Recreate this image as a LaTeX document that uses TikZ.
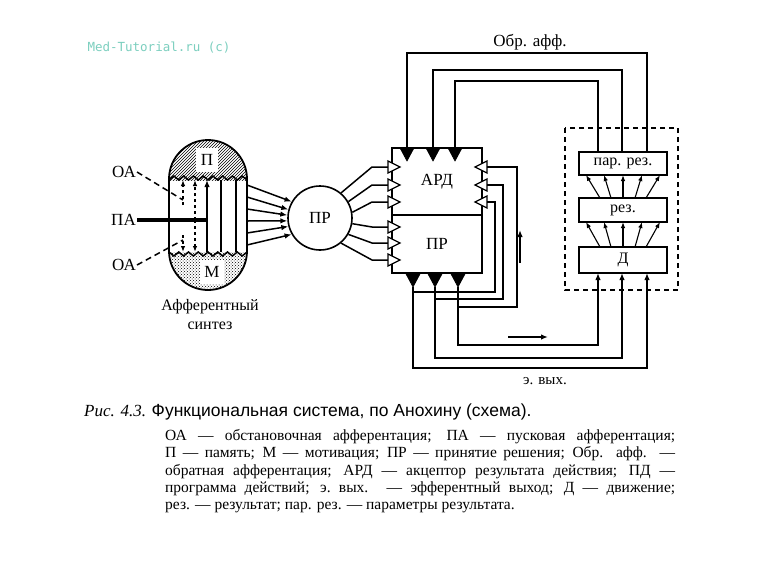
\documentclass[tikz,border=0pt]{standalone}
\usepackage{fontspec}
\setmainfont{Liberation Serif}
\newfontfamily\capsans{Liberation Sans}
\newfontfamily\wmono{DejaVu Sans Mono}
\usetikzlibrary{patterns,arrows.meta,calc}
\definecolor{wm}{HTML}{7CCFBF}
\begin{document}
\begin{tikzpicture}[x=1pt,y=-1pt,
  ln/.style={line width=1.5pt},
  arr/.style={ln,-{Latex[length=7pt,width=5.5pt]}},
  box/.style={draw,line width=1.6pt,minimum width=88pt,inner sep=0pt,font=\fontsize{16}{16}\selectfont},
  lbl/.style={font=\fontsize{17}{17}\selectfont,inner sep=1pt},
  blk/.style={fill=black,draw=black,line width=0.6pt},
  wht/.style={fill=white,draw=black,line width=1.3pt}]
\useasboundingbox[fill=white] (0,0) rectangle (768,576);
\node[anchor=west,text=wm,font=\wmono\fontsize{12.5}{12.5}\selectfont] (wmk) at (84,48) {Med-Tutorial.ru (c)};

% capsule
\begin{scope}
\clip[rounded corners=39pt] (169,140) rectangle (247,290);
\fill[pattern=north east lines] (160,135) rectangle (255,180);
\fill[pattern=crosshatch dots] (160,252) rectangle (255,295);
\fill[white] (196,148) rectangle (218,172);
\fill[white] (200,260) rectangle (224,284);
\end{scope}
\draw[line width=1.8pt,rounded corners=39pt] (169,140) rectangle (247,290);
\draw[ln] (169,180) \foreach \i in {0,...,7}{ -- ++(4.9,-4) -- ++(4.85,4)};
\draw[ln] (169,252) \foreach \i in {0,...,7}{ -- ++(4.9,4) -- ++(4.85,-4)};
\node[lbl] (P) at (207,160) {П};
\node[lbl] (M) at (212,272) {М};
\node[lbl,anchor=east] (oa1) at (137,172) {ОА};
\node[lbl,anchor=east] (pa) at (137,220) {ПА};
\node[lbl,anchor=east] (oa2) at (137,265) {ОА};
\draw[line width=3.5pt] (pa.east) -- (207,220);
\draw[ln,dash pattern=on 6pt off 4pt] (oa1.east) -- (183,200);
\draw[ln,dash pattern=on 6pt off 4pt] (oa2.east) -- (183,240);
\draw[ln,dashed,-{Latex[length=6pt]}] (183,205) -- (183,180);
\draw[ln,dashed,-{Latex[length=6pt]}] (183,235) -- (183,252);
\draw[ln,dashed,-{Latex[length=6pt]}] (195,220) -- (195,180);
\draw[ln,dashed,-{Latex[length=6pt]}] (195,220) -- (195,252);
\draw[arr] (207,220) -- (207,180);
\draw[ln] (207,220) -- (207,252);
\draw[ln] (221,180) -- (221,252);
\draw[ln] (236,180) -- (236,252);
\node[font=\fontsize{16}{19}\selectfont,align=center] (as) at (210,315) {Афферентный\\синтез};

% PR circle
\node[draw,circle,line width=1.6pt,minimum size=64pt,lbl] (pr) at (320,218) {ПР};
\foreach \y/\a in {185/150,197/165,209/175,221/185,233/195,245/210}
  \draw[arr] (247,\y) -- (pr.\a);

% ARD / PR box
\node[box,minimum width=90pt,minimum height=67pt,font=\fontsize{17}{17}\selectfont] (ard) at (437,181.5) {АРД};
\node[box,minimum width=90pt,minimum height=58pt,font=\fontsize{17}{17}\selectfont] (prb) at (437,244) {ПР};
\foreach \y/\a in {167/50,185/30,202/10,227/-10,243/-30,260/-50}{
  \draw[ln] (pr.\a) -- (372,\y) -- (392,\y);
  \draw[wht] (388,\y-6) -- (400,\y) -- (388,\y+6) -- cycle;}
\foreach \y in {167,185,202}
  \draw[wht] (487,\y-6) -- (475,\y) -- (487,\y+6) -- cycle;

% feedback loops
\node[box,minimum height=23pt] (parres) at (623,163.5) {пар. рез.};
\node[box,minimum height=24pt] (res) at (623,210) {рез.};
\node[box,minimum height=26pt] (D) at (623,260) {Д};
\draw[line width=1.3pt,dash pattern=on 5pt off 4pt] (565,128) rectangle (678,290);
\foreach \x/\y/\t in {647/53/407,622/70/433,598/81/455}{
  \draw[ln] (\x,152) -- (\x,\y) -- (\t,\y) -- (\t,150);
  \draw[blk] (\t-7,148) -- (\t+7,148) -- (\t,161) -- cycle;}
\node[lbl] (obr) at (530,42) {Обр. афф.};

% efferent output
\foreach \t/\y/\x in {413/368/647,435/358/622,458/345/598}{
  \draw[blk] (\t-7,274) -- (\t+7,274) -- (\t,287) -- cycle;
  \draw[arr] (\t,287) -- (\t,\y) -- (\x,\y) -- (\x,273);}
\foreach \t/\y/\x/\yy in {413/292/495/202,435/299/503/185,458/307/517/167}
  \draw[ln] (\t,\y) -- (\x,\y) -- (\x,\yy) -- (487,\yy);
\node[lbl,font=\fontsize{15}{15}\selectfont] (evyh) at (545,381) {э. вых.};
\coordinate (u1) at (520,263); \coordinate (u2) at (520,230);
\draw[arr] (u1) -- (u2);
\coordinate (r1) at (508,337); \coordinate (r2) at (548,337);
\draw[arr] (r1) -- (r2);

% internal arrows in dashed box
\foreach \a/\b in {600/586,611/604,623/623,635/642,646/660}{
  \draw[line width=1.1pt,-{Latex[length=6pt,width=4.5pt]}] (\a,247) -- (\b,222);
  \draw[line width=1.1pt,-{Latex[length=6pt,width=4.5pt]}] (\a,198) -- (\b,175);}

% caption
\node[anchor=base west,inner sep=0] (cap) at (84,416)
  {\fontsize{17}{17}\selectfont\textit{Рис. 4.3.} {\capsans\fontsize{17.5}{17.5}\selectfont Функциональная система, по Анохину (схема).}};
\node[anchor=north west,inner sep=0,font=\fontsize{15.5}{17.4}\selectfont,align=left] (leg) at (165,429) {%
\makebox[510pt][s]{ОА — обстановочная афферентация; ПА — пусковая афферентация;}\\
\makebox[510pt][s]{П — память; М — мотивация; ПР — принятие решения; Обр. афф. —}\\
\makebox[510pt][s]{обратная афферентация; АРД — акцептор результата действия; ПД —}\\
\makebox[510pt][s]{программа действий; э.~вых. — эфферентный выход; Д — движение;}\\
рез. — результат; пар. рез. — параметры результата.};
\end{tikzpicture}
\end{document}
